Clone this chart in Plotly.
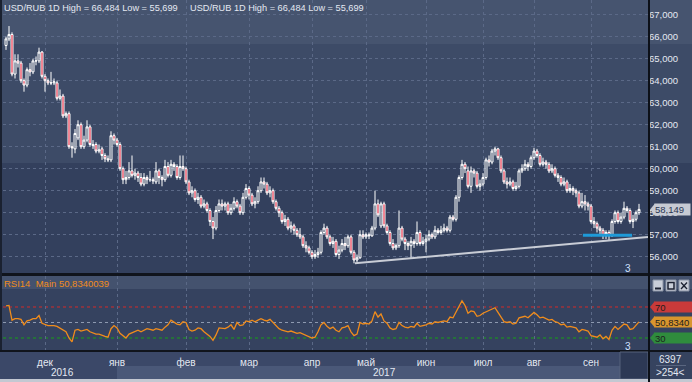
import plotly.graph_objects as go

W, H = 692, 382


def fx(p):
    return p / W


def fy(p):
    return 1 - p / H


# ---------------- data ----------------
OPEN = [
    65.6, 65.9, 66.1, 64.3, 64.9, 64.8, 64.0, 63.8, 64.5, 64.4,
    64.9, 64.9, 65.3, 64.2, 64.0, 63.9, 63.9, 63.9, 63.2, 63.3,
    62.4, 62.5, 61.0, 60.9, 61.4, 62.0, 61.0, 61.3, 61.9, 61.1,
    61.1, 60.8, 60.9, 60.6, 60.45, 60.4, 61.5, 61.3, 61.1, 60.0,
    59.5, 59.6, 59.9, 59.7, 59.8, 59.6, 59.3, 59.6, 59.5, 59.5,
    59.4, 59.9, 59.6, 59.5, 60.1, 59.7, 60.2, 60.1, 59.6, 60.1,
    60.0, 59.4, 58.9, 59.0, 58.6, 58.7, 58.3, 58.4, 58.1, 57.6,
    57.3, 58.1, 58.4, 58.3, 58.4, 58.0, 58.2, 58.5, 58.3, 58.0,
    58.7, 59.1, 58.8, 58.4, 58.5, 59.0, 59.4, 59.3, 58.9, 59.0,
    58.5, 58.2, 58.0, 57.6, 57.7, 57.3, 57.4, 57.2, 57.0, 56.9,
    56.5, 56.4, 56.2, 56.0, 56.1, 56.2, 57.1, 57.3, 56.9, 56.6,
    56.7, 56.1, 56.3, 56.6, 56.5, 56.9, 56.2, 55.85, 55.95, 57.0,
    56.9, 57.0, 56.95, 57.3, 58.4, 57.4, 58.4, 57.4, 57.1, 56.6,
    56.4, 56.5, 57.3, 56.8, 56.6, 56.5, 56.7, 56.6, 57.1, 56.6,
    56.7, 56.8, 57.0, 56.9, 57.2, 57.1, 57.2, 57.3, 57.2, 57.8,
    57.7, 58.7, 59.6, 60.2, 59.9, 59.2, 59.9, 59.8, 59.2, 59.3,
    59.6, 60.4, 60.3, 60.8, 60.9, 60.5, 59.9, 59.4, 59.3, 59.4,
    59.1, 59.2, 59.9, 60.0, 60.2, 60.1, 60.5, 60.8, 60.6, 60.2,
    60.3, 60.2, 59.9, 60.0, 59.7, 59.6, 59.3, 59.4, 59.0, 59.1,
    59.0, 58.9, 58.3, 58.5, 58.4, 58.3, 57.6, 57.5, 57.3, 57.2,
    56.95, 57.1, 56.95, 57.6, 58.0, 57.6, 57.8, 58.2, 58.1, 57.6,
    57.7, 58.0,
]
HIGH = [
    66.0, 66.484, 66.2, 65.2, 65.2, 64.9, 64.1, 64.6, 64.8, 65.0,
    65.1, 65.5, 65.35, 64.3, 64.1, 64.4, 64.1, 64.0, 63.6, 63.4,
    62.6, 62.6, 61.2, 61.8, 62.2, 62.1, 61.5, 62.2, 62.0, 61.3,
    61.2, 61.1, 61.0, 60.7, 60.6, 61.7, 61.6, 61.4, 61.2, 60.1,
    59.9, 60.3, 60.6, 60.0, 59.9, 59.8, 59.8, 59.7, 59.9, 59.6,
    60.3, 60.0, 59.7, 60.4, 60.3, 60.4, 60.3, 60.2, 60.6, 60.6,
    60.1, 59.5, 59.2, 59.1, 58.9, 58.8, 58.6, 58.5, 58.2, 57.8,
    58.3, 58.6, 58.6, 58.5, 58.5, 58.4, 58.7, 58.6, 58.4, 58.9,
    59.3, 59.2, 58.9, 58.7, 59.2, 59.6, 59.6, 59.4, 59.2, 59.1,
    58.6, 58.3, 58.1, 57.9, 57.8, 57.6, 57.5, 57.3, 57.3, 57.0,
    56.7, 56.5, 56.3, 56.3, 56.4, 57.2, 57.5, 57.4, 57.0, 56.9,
    56.8, 56.5, 56.8, 56.9, 57.0, 57.0, 56.3, 56.1, 57.2, 57.2,
    57.1, 57.1, 57.4, 59.0, 58.6, 58.5, 58.5, 57.5, 57.2, 56.8,
    56.6, 58.1, 57.4, 56.9, 56.7, 56.9, 56.8, 57.6, 57.2, 56.9,
    57.0, 57.2, 57.1, 57.4, 57.3, 57.4, 57.5, 57.4, 57.9, 57.9,
    58.8, 59.7, 60.4, 60.3, 60.1, 60.1, 60.0, 59.9, 59.5, 59.8,
    60.5, 60.6, 60.9, 61.0, 60.95, 60.6, 60.0, 59.6, 59.6, 59.5,
    59.4, 60.0, 60.2, 60.4, 60.3, 60.6, 60.95, 60.9, 60.7, 60.5,
    60.4, 60.3, 60.2, 60.1, 59.8, 59.7, 59.6, 59.5, 59.3, 59.2,
    59.1, 59.0, 58.9, 58.8, 58.5, 58.4, 57.8, 57.6, 57.4, 57.3,
    57.2, 57.2, 57.7, 58.1, 58.1, 58.0, 58.5, 58.3, 58.2, 57.9,
    58.1, 58.4,
]
LOW = [
    65.4, 65.8, 64.2, 64.1, 64.6, 63.9, 63.5, 63.7, 64.2, 64.3,
    64.7, 64.8, 64.1, 63.5, 63.8, 63.8, 63.8, 63.1, 63.1, 62.3,
    62.3, 60.9, 60.5, 60.7, 61.3, 60.9, 60.9, 61.2, 61.0, 60.9,
    60.7, 60.7, 60.4, 60.3, 60.3, 60.3, 61.1, 61.0, 59.9, 59.3,
    59.3, 59.5, 59.6, 59.5, 59.4, 59.2, 59.2, 59.3, 59.4, 59.3,
    59.3, 59.3, 59.2, 59.4, 59.6, 59.6, 59.9, 59.5, 59.5, 59.9,
    59.3, 58.8, 58.7, 58.5, 58.4, 58.2, 58.2, 58.0, 57.4, 56.8,
    57.2, 58.0, 58.1, 58.1, 57.9, 57.9, 58.1, 58.2, 57.9, 57.9,
    58.6, 58.6, 58.3, 58.2, 58.4, 58.9, 59.1, 58.8, 58.7, 58.4,
    58.1, 57.8, 57.5, 57.4, 57.2, 57.1, 57.0, 56.9, 56.8, 56.4,
    56.2, 56.1, 55.9, 55.9, 55.95, 56.1, 57.0, 56.8, 56.5, 56.4,
    56.0, 55.9, 56.2, 56.3, 56.4, 56.1, 55.699, 55.75, 55.9, 56.8,
    56.8, 56.8, 56.9, 57.2, 57.8, 57.3, 57.3, 57.0, 56.5, 56.3,
    56.3, 56.4, 56.7, 56.3, 56.3, 55.9, 56.4, 56.5, 56.5, 56.5,
    56.2, 56.7, 56.8, 56.8, 57.0, 57.0, 57.1, 57.1, 57.1, 57.6,
    57.6, 58.5, 59.5, 59.8, 59.1, 58.9, 59.6, 59.1, 59.0, 59.2,
    59.5, 60.1, 60.2, 60.6, 60.4, 59.8, 59.3, 59.1, 59.2, 59.0,
    59.0, 59.1, 59.8, 59.9, 59.9, 60.0, 60.4, 60.5, 60.1, 60.1,
    60.0, 59.8, 59.8, 59.6, 59.4, 59.2, 59.2, 58.9, 58.9, 58.8,
    58.7, 58.2, 58.2, 58.1, 58.1, 57.5, 57.3, 57.1, 57.0, 56.8,
    56.8, 56.75, 56.9, 57.5, 57.5, 57.5, 57.7, 58.0, 57.5, 57.3,
    57.6, 57.9,
]
CLOSE = [
    65.9, 66.1, 64.3, 64.9, 64.8, 64.0, 63.8, 64.5, 64.4, 64.9,
    64.9, 65.3, 64.2, 64.0, 63.9, 63.9, 63.95, 63.2, 63.3, 62.4,
    62.5, 61.0, 60.95, 61.6, 62.0, 61.0, 61.3, 61.9, 61.1, 61.05,
    60.8, 60.85, 60.6, 60.45, 60.4, 61.5, 61.3, 61.1, 60.0, 59.5,
    59.6, 59.9, 59.7, 59.8, 59.6, 59.3, 59.6, 59.5, 59.5, 59.45,
    59.9, 59.6, 59.5, 60.1, 59.7, 60.2, 60.1, 59.6, 60.1, 60.0,
    59.4, 58.9, 59.0, 58.6, 58.7, 58.3, 58.4, 58.1, 57.6, 57.3,
    58.1, 58.4, 58.3, 58.4, 58.0, 58.2, 58.5, 58.3, 58.0, 58.7,
    59.1, 58.8, 58.4, 58.5, 59.0, 59.4, 59.3, 58.9, 59.0, 58.5,
    58.2, 58.0, 57.6, 57.7, 57.3, 57.4, 57.2, 57.0, 56.9, 56.5,
    56.4, 56.2, 56.0, 56.1, 56.2, 57.1, 57.3, 56.9, 56.6, 56.7,
    56.1, 56.3, 56.6, 56.5, 56.9, 56.2, 55.85, 55.95, 57.0, 56.9,
    57.0, 56.95, 57.3, 58.4, 57.9, 58.4, 57.4, 57.1, 56.6, 56.4,
    56.5, 57.3, 56.8, 56.6, 56.5, 56.7, 56.6, 57.1, 56.6, 56.7,
    56.8, 57.0, 56.9, 57.2, 57.1, 57.2, 57.3, 57.2, 57.8, 57.7,
    58.7, 59.6, 60.2, 60.0, 59.2, 59.9, 59.8, 59.2, 59.3, 59.6,
    60.4, 60.3, 60.8, 60.9, 60.5, 59.9, 59.4, 59.3, 59.4, 59.1,
    59.2, 59.9, 60.0, 60.2, 60.1, 60.5, 60.8, 60.6, 60.2, 60.3,
    60.2, 59.9, 60.0, 59.7, 59.6, 59.3, 59.4, 59.0, 59.1, 59.0,
    58.9, 58.3, 58.5, 58.4, 58.3, 57.6, 57.5, 57.3, 57.2, 56.95,
    57.1, 56.95, 57.6, 58.0, 57.6, 57.8, 58.2, 58.1, 57.6, 57.7,
    58.0, 58.149,
]
RSI = [
    71.5, 72, 53, 55, 55, 54, 47, 52, 53, 55,
    55, 59, 49, 47, 46, 46, 46, 45, 43, 40,
    38, 30, 25, 40, 41, 39, 40, 41, 38, 36,
    35, 35, 33, 32, 31, 42, 46, 43, 36, 33,
    30, 35, 37, 39, 40, 38, 40, 42, 41, 40,
    42, 41, 40, 44, 47, 53, 50, 48, 47, 51,
    50, 41, 39, 40, 43, 42, 38, 35, 32, 27,
    34, 43, 42, 42, 44, 47, 41, 50, 46, 47,
    52, 51, 53, 51, 53, 55, 53, 52, 54, 50,
    47, 42, 40, 39, 38, 39, 37, 36, 37, 35,
    34, 32, 30, 31, 38, 47, 50, 45, 42, 44,
    40, 38, 43, 44, 46, 38, 33, 35, 50, 48,
    49, 48, 52, 64, 57, 61, 52, 49, 43, 41,
    42, 50, 46, 44, 43, 45, 44, 49, 45, 46,
    47, 49, 48, 51, 50, 51, 52, 51, 57, 56,
    64, 71, 78, 72, 62, 65, 64, 58, 59, 62,
    64, 65, 67, 69, 63, 56, 51, 50, 51, 48,
    49, 56, 57, 58, 56, 60, 63, 60, 56, 57,
    55, 53, 54, 51, 50, 47, 48, 44, 45, 44,
    43, 38, 41, 40, 39, 33, 32, 31, 34, 29,
    32, 28, 40, 45, 41, 44, 48, 47, 41, 42,
    47, 50.834,
]
RSI_LAST_TEXT = "50,8340039"
RSI_LEVELS = [70, 50, 30]

MONTH_LABELS = ["дек", "янв", "фев", "мар", "апр", "май", "июн", "июл", "авг", "сен"]
MONTH_BARS = [13, 37, 60, 81, 102, 120, 140, 159, 176, 195]
YEAR_LABELS = ["2016", "2017"]
YEAR_BARS = [18.7, 126]
PRICE_TICKS = [56, 57, 58, 59, 60, 61, 62, 63, 64, 65, 66, 67]

# drawn objects (in data units)
TREND_X = [116.3, 214]
TREND_Y = [55.699, 56.90]
SUPPORT_X = [192.3, 208.7]
SUPPORT_Y = [56.98, 56.98]

BARS = list(range(len(CLOSE)))

# ---------------- styling ----------------
FONT = "Liberation Sans, Arial, sans-serif"
TXT = "#e4e9f2"
GRID = "#5b6987"
X0, X1 = 3, 648          # plot area in pixels
XR = [-1, 214]


def fmt(v, d):
    return f"{v:.{d}f}".replace(".", ",")


fig = go.Figure()

fig.add_trace(go.Candlestick(
    x=BARS, open=OPEN, high=HIGH, low=LOW, close=CLOSE,
    increasing=dict(line=dict(color="#ffffff", width=1), fillcolor="rgba(0,0,0,0)"),
    decreasing=dict(line=dict(color="#ffffff", width=1), fillcolor="#e0102c"),
    whiskerwidth=0, hoverinfo="skip", showlegend=False, xaxis="x", yaxis="y",
))
fig.add_trace(go.Scatter(
    x=TREND_X, y=TREND_Y, mode="lines", line=dict(color="#c9cdd6", width=2),
    hoverinfo="skip", showlegend=False, xaxis="x", yaxis="y",
))
fig.add_trace(go.Scatter(
    x=SUPPORT_X, y=SUPPORT_Y, mode="lines", line=dict(color="#1e9ad8", width=3),
    hoverinfo="skip", showlegend=False, xaxis="x", yaxis="y",
))
fig.add_trace(go.Scatter(
    x=BARS, y=RSI, mode="lines", line=dict(color="#f08c1c", width=1.3),
    hoverinfo="skip", showlegend=False, xaxis="x2", yaxis="y2",
))

shapes = []


def rect(x0, y0, x1, y1, color, layer="below", line=None):
    d = dict(type="rect", xref="paper", yref="paper",
             x0=fx(x0), x1=fx(x1), y0=fy(y1), y1=fy(y0),
             fillcolor=color, layer=layer, line=dict(width=0))
    if line:
        d["line"] = dict(color=line, width=1)
    shapes.append(d)


# panel backgrounds (stepped gradient)
rect(0, 0, W, 44, "#46546f")
rect(0, 44, W, 163, "#3d4b67")
rect(0, 163, W, 273, "#33405d")
rect(0, 273, W, 276, "#10141c")
rect(0, 276, W, 289, "#44526e")
rect(0, 289, W, 350, "#35425f")
rect(0, 350, W, 352, "#10141c")
rect(0, 352, 649, 379, "#3b4868")
rect(117, 366, 620, 379, "#4a5878")
rect(620, 352, 648, 379, "#2d3955", line="#56627c")
rect(649, 352, W, 379, "#36435f")
rect(0, 379, W, H, "#c3c8d2")
rect(0, 0, 2, 350, "#1a2130")
rect(648, 0, 650, 382, "#0c1018", layer="above")

# RSI level lines
for lvl, col in zip(RSI_LEVELS, ["#d42a2a", "#8f9ab2", "#18a018"]):
    shapes.append(dict(type="line", xref="paper", yref="y2", x0=fx(X0), x1=fx(X1),
                       y0=lvl, y1=lvl, line=dict(color=col, width=1, dash="dot"),
                       layer="below"))


# tag pointers
def pointer(yref, yval, color):
    shapes.append(dict(type="path", xref="paper", yref=yref, ysizemode="pixel",
                       yanchor=yval,
                       path=f"M {fx(650)},0 L {fx(655)},6 L {fx(655)},-6 Z",
                       fillcolor=color, line=dict(width=0), layer="above"))


pointer("y", CLOSE[-1], "#c6cad3")
for val, col in zip([70, RSI[-1], 30], ["#c93a3a", "#d8952e", "#2f8c3d"]):
    pointer("y2", val, col)

# window buttons
for bx in [653, 666, 679]:
    rect(bx, 280, bx + 10, 291, "#c9ced8", layer="above", line="#8a93a5")
shapes.append(dict(type="line", xref="paper", yref="paper", x0=fx(655), x1=fx(661),
                   y0=fy(288.5), y1=fy(288.5), line=dict(color="#1c2232", width=2)))
shapes.append(dict(type="rect", xref="paper", yref="paper", x0=fx(668), x1=fx(674),
                   y0=fy(289), y1=fy(282.5), line=dict(color="#1c2232", width=1.5)))
shapes.append(dict(type="line", xref="paper", yref="paper", x0=fx(681), x1=fx(687),
                   y0=fy(282.5), y1=fy(289), line=dict(color="#1c2232", width=1.3)))
shapes.append(dict(type="line", xref="paper", yref="paper", x0=fx(681), x1=fx(687),
                   y0=fy(289), y1=fy(282.5), line=dict(color="#1c2232", width=1.3)))
shapes.append(dict(type="line", xref="paper", yref="paper", x0=fx(656), x1=fx(686),
                   y0=fy(365.5), y1=fy(365.5), line=dict(color="#5a6680", width=1)))

annotations = []


def text(x, y, s, color=TXT, size=10, xanchor="left", xref="paper", yref="paper", **kw):
    annotations.append(dict(x=x, y=y, xref=xref, yref=yref, text=s, showarrow=False,
                            xanchor=xanchor, yanchor="middle",
                            font=dict(family=FONT, size=size, color=color), **kw))


title = f"USD/RUB 1D High = {fmt(max(HIGH), 3)} Low = {fmt(min(LOW), 3)}"
text(fx(2), fy(8), title, size=9.2)
text(fx(188), fy(8), title, size=9.2)
text(fx(2), fy(283.5), f"RSI14  Main {RSI_LAST_TEXT}", color="#f08c1c", size=9.5)
text(fx(628), fy(268), "3", color="#cfe0ff", xanchor="center")
text(fx(628), fy(346), "3", color="#cfe0ff", xanchor="center")
for yb, ylab in zip(YEAR_BARS, YEAR_LABELS):
    text(yb, fy(372), ylab, xanchor="center", xref="x2")
text(fx(670), fy(359), "6397", xanchor="center")
text(fx(670), fy(372.5), ">254<", xanchor="center")

# price tag & rsi tags
text(fx(654), CLOSE[-1], fmt(CLOSE[-1], 3), color="#2a3552", yref="y", size=9.5,
     bgcolor="#c6cad3", width=35, height=11, align="left", borderpad=0)
for val, s, col in zip([70, RSI[-1], 30], ["70", fmt(RSI[-1], 4), "30"],
                       ["#c93a3a", "#d8952e", "#2f8c3d"]):
    text(fx(654), val, s, color="#1d1d1d", yref="y2", bgcolor=col, size=9.5,
         width=40, height=10, align="left", borderpad=0)

fig.update_layout(
    width=W, height=H, margin=dict(l=0, r=0, t=0, b=0),
    paper_bgcolor="#33405d", plot_bgcolor="rgba(0,0,0,0)",
    separators=", ", showlegend=False, boxgap=0.05,
    font=dict(family=FONT, size=10, color=TXT),
    shapes=shapes, annotations=annotations,
    xaxis=dict(domain=[fx(X0), fx(X1)], range=XR, anchor="y",
               tickvals=MONTH_BARS, showticklabels=False, ticks="",
               showgrid=True, gridcolor=GRID, griddash="dot", gridwidth=1,
               zeroline=False, showline=False, rangeslider=dict(visible=False),
               fixedrange=True),
    yaxis=dict(domain=[fy(272), 1], range=[55.304, 67.668], anchor="x", side="right",
               tickvals=PRICE_TICKS, tickformat=".3f", ticks="",
               tickfont=dict(family=FONT, size=9.5, color=TXT),
               showgrid=True, gridcolor=GRID, griddash="dot", gridwidth=1,
               zeroline=False, showline=False),
    xaxis2=dict(domain=[fx(X0), fx(X1)], range=XR, anchor="y2",
                tickvals=MONTH_BARS, ticktext=MONTH_LABELS, ticks="",
                ticklabelstandoff=5,
                tickfont=dict(family=FONT, size=10, color=TXT),
                showgrid=True, gridcolor=GRID, griddash="dot", gridwidth=1,
                zeroline=False, showline=False),
    yaxis2=dict(domain=[fy(350), fy(276)], range=[14.5, 110], anchor="x2",
                showticklabels=False, showgrid=False, zeroline=False, ticks=""),
)

fig.write_html(
    "out.html",
    config={"displayModeBar": False},
    post_script="document.body.style.margin='0';document.body.style.overflow='hidden';",
)
